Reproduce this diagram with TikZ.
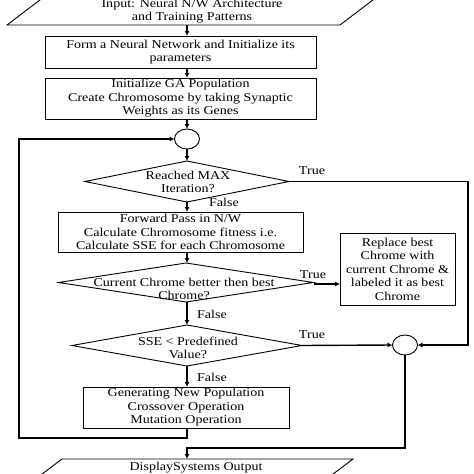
\documentclass[tikz,border=0pt]{standalone}
\usepackage{fontspec}
\setmainfont{Liberation Serif}[FakeStretch=1.17]
\usetikzlibrary{shapes.geometric,arrows.meta}
\begin{document}
\begin{tikzpicture}[x=1pt,y=-1pt,
  txt/.style={font=\fontsize{12}{13.5}\selectfont, align=center, inner sep=0pt, outer sep=0pt},
  box/.style={draw, line width=0.9pt, inner sep=0pt, outer sep=0pt, font=\fontsize{12}{13.5}\selectfont, align=center},
  dia/.style={draw, diamond, line width=0.9pt, inner sep=0pt, outer sep=0pt},
  junc/.style={draw, ellipse, line width=0.9pt, inner sep=0pt, outer sep=0pt, minimum width=25pt, minimum height=20pt},
  shp/.style={line width=0.9pt},
  con/.style={line width=1.4pt},
  arr/.style={con, -{Latex[length=5pt,width=5pt]}},
  lbl/.style={txt}
]
\useasboundingbox (0,0) rectangle (474,474);
\fill[white] (0,0) rectangle (474,474);
\clip (0,0) rectangle (474,474);

% input parallelogram
\draw[shp] (7,25) -- (340,25) -- (386,-10) -- (53,-10) -- cycle;
\node[txt] (in) at (192,11) {Input: Neural N/W Architecture\\and Training Patterns};
\coordinate (inb) at (187,25);

\node[box, minimum width=271pt, minimum height=32pt] (b1) at (180.5,52) {Form a Neural Network and Initialize its\\parameters};
\node[box, minimum width=271pt, minimum height=41pt] (b2) at (180.5,98.5) {Initialize GA Population\\Create Chromosome by taking Synaptic\\Weights as its Genes};

\node[junc] (c1) at (187,139) {};

\node[dia, minimum width=204pt, minimum height=41pt] (d1) at (187,181.5) {};
\node[txt] (t1) at (188,182) {Reached MAX\\Iteration?};

\node[box, minimum width=245pt, minimum height=40pt] (b3) at (180.5,232) {Forward Pass in N/W\\Calculate Chromosome fitness i.e.\\Calculate SSE for each Chromosome};

\node[dia, minimum width=255pt, minimum height=39pt] (d2) at (186,282.5) {};
\node[txt] (t2) at (184,289) {Current Chrome better then best\\Chrome?};

\node[box, minimum width=115pt, minimum height=72pt] (b4) at (397.5,269) {Replace best\\Chrome with\\current Chrome \&\\labeled it as best\\Chrome};

\node[dia, minimum width=230pt, minimum height=41pt] (d3) at (187,345.5) {};
\node[txt] (t3) at (188,348) {SSE < Predefined\\Value?};

\node[junc] (c2) at (405,345) {};

\node[box, minimum width=206pt, minimum height=41pt] (b5) at (186,407.5) {Generating New Population\\Crossover Operation\\Mutation Operation};

% output parallelogram
\draw[shp] (62,459) -- (353,459) -- (312,490) -- (21,490) -- cycle;
\node[txt] (out) at (196,468) {DisplaySystems Output};
\coordinate (outt) at (187,459);

% labels
\node[lbl] (l1) at (312,171) {True};
\node[lbl] (l2) at (224,202) {False};
\node[lbl] (l3) at (313,275) {True};
\node[lbl] (l4) at (212,314) {False};
\node[lbl] (l5) at (312,335) {True};
\node[lbl] (l6) at (212,377) {False};

% connectors
\draw[arr] (inb) -- (b1.north -| inb);
\draw[arr] (b1.south -| inb) -- (b2.north -| inb);
\draw[arr] (b2.south -| inb) -- (c1.north);
\draw[arr] (c1.south) -- (d1.north);
\draw[arr] (d1.south) -- (b3.north -| d1.south);
\draw[arr] (b3.south -| d1.south) -- (d2.north -| d1.south);
\draw[arr] (d2.south -| d1.south) -- (d3.north);
\draw[arr] (d3.south) -- (b5.north -| d3.south);
\draw[arr] ([yshift=-1.5pt]d2.east) -- ([yshift=-1.5pt]d2.east -| b4.west);
\draw[arr] (d3.east) -- (c2.west);
\draw[arr] (d1.east) -- (468,181.5) -- (468,345) -- (c2.east);
\draw[arr] (b5.south -| d3.south) -- (187,438) -- (19,438) -- (19,139) -- (c1.west);
\draw[arr] (c2.south) -- (405,448) -- (187,448) -- (outt);
\end{tikzpicture}
\end{document}
